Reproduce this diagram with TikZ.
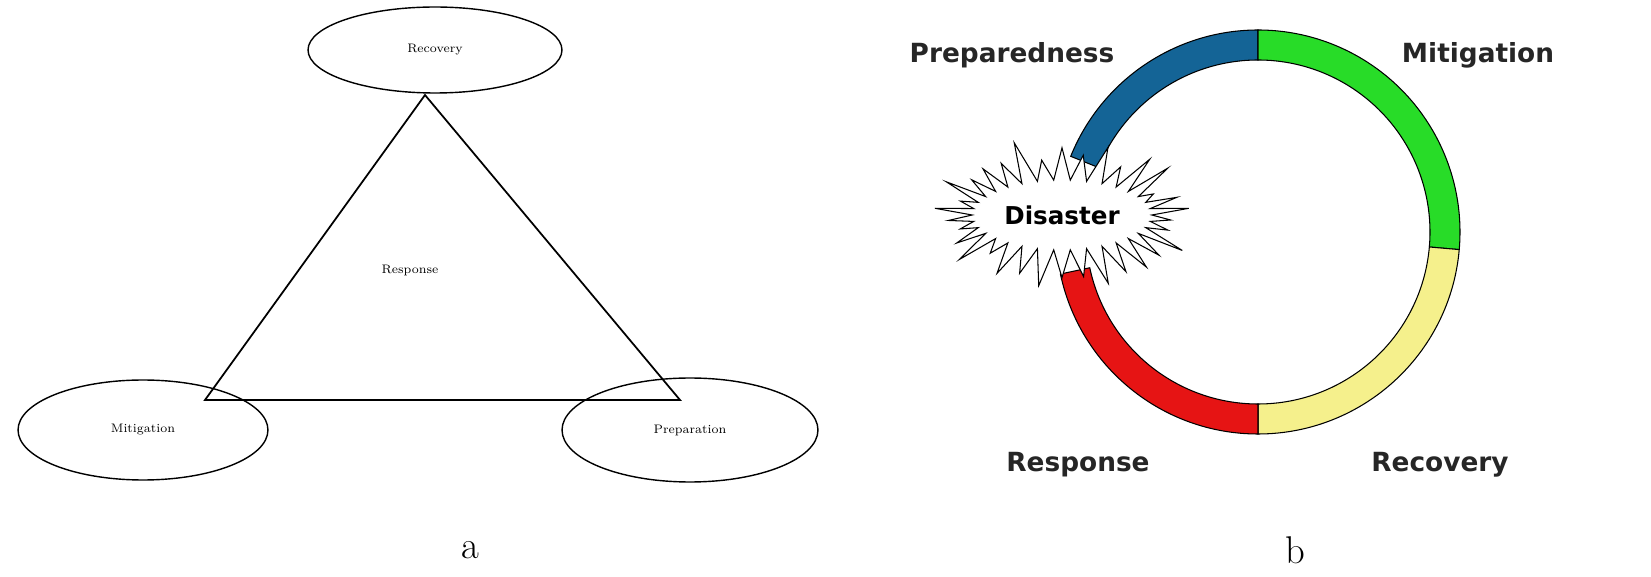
\documentclass[tikz,border=0pt]{standalone}
\usepackage{fontspec}
\newfontfamily\lblfont{DejaVu Sans}
\usetikzlibrary{shapes.symbols,shapes.geometric}
\definecolor{cblue}{RGB}{20,100,150}
\definecolor{cgreen}{RGB}{40,220,40}
\definecolor{cyellow}{RGB}{245,240,140}
\definecolor{cred}{RGB}{230,20,20}
\begin{document}
\begin{tikzpicture}[x=0.02cm,y=-0.02cm,
  ell/.style={draw,ellipse,line width=0.8pt,font=\fontsize{7}{8}\selectfont},
  lbl/.style={font=\lblfont\bfseries\fontsize{15}{17}\selectfont,text=black!85},
  seg/.style={draw=black,line width=0.6pt}]
\useasboundingbox (0,0) rectangle (1651,577);
% (a)
\node[ell,minimum width=5.08cm,minimum height=1.72cm] (rec) at (435,50) {Recovery};
\node[ell,minimum width=5.0cm,minimum height=2.0cm] (mit) at (143,430) {Mitigation};
\node[ell,minimum width=5.12cm,minimum height=2.08cm] (pre) at (690,430) {Preparation};
\coordinate (t1) at (425,95);
\coordinate (t2) at (205,400);
\coordinate (t3) at (680,400);
\draw[line width=1pt] (t1) -- (t2) -- (t3) -- cycle;
\node[font=\fontsize{7}{8}\selectfont] (resp) at (410,270) {Response};
\node[font=\fontsize{22}{24}\selectfont] (la) at (470,550) {a};
\node[font=\fontsize{22}{24}\selectfont] (lb) at (1295,550) {b};
% (b)
\begin{scope}[shift={(1258,232)},y=0.02cm]
\foreach \a/\b/\col in {158/90/cblue,90/-5/cgreen,-5/-90/cyellow,-90/-168/cred}{
  \filldraw[fill=\col,seg] (\a:202) arc[start angle=\a,end angle=\b,radius=202]
   -- (\b:172) arc[start angle=\b,end angle=\a,radius=172] -- cycle;
}
\end{scope}
\node[starburst,draw,fill=white,line width=0.6pt,minimum width=4.4cm,minimum height=3.2cm,starburst points=34,starburst point height=0.9cm,font=\lblfont\bfseries\fontsize{14}{16}\selectfont] (dis) at (1062,215) {Disaster};
\node[lbl] (lp) at (1012,55) {Preparedness};
\node[lbl] (lm) at (1478,55) {Mitigation};
\node[lbl] (lr) at (1078,465) {Response};
\node[lbl] (lc) at (1440,465) {Recovery};
\end{tikzpicture}
\end{document}
